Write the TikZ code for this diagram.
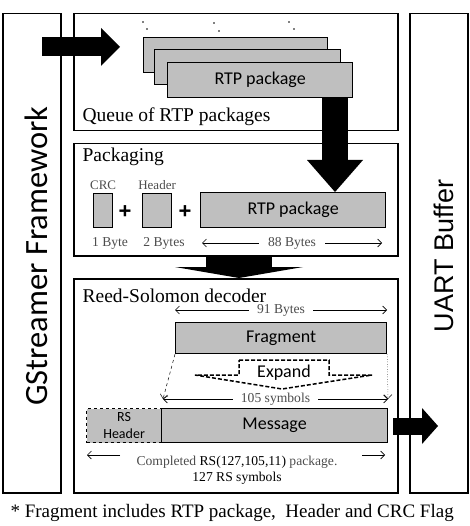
\documentclass[tikz,border=0pt]{standalone}
\usepackage{fontspec}
\setmainfont{Liberation Serif}
\setsansfont{Carlito}
\newfontfamily\arialfont{Liberation Sans}
\usetikzlibrary{arrows.meta,positioning}

\begin{document}
\begin{tikzpicture}[x=1pt,y=-1pt,line width=1.2pt,
  frame/.style={draw,line width=1.5pt,inner sep=0pt,anchor=north west},
  pkt/.style={draw,fill=gray!50,inner sep=0pt,anchor=north west,font=\sffamily\fontsize{18}{18}\selectfont},
  title/.style={anchor=west,inner sep=0pt,font=\fontsize{19.5}{20}\selectfont},
  small/.style={inner sep=0pt,text=black!70,font=\fontsize{13.6}{16}\selectfont},
  dim/.style={line width=0.6pt,{Straight Barb[length=4pt,width=8pt]}-{Straight Barb[length=4pt,width=8pt]}},
  fat/.style={draw,-{Triangle[length=#1,width=2*#1,line width=0pt]}},
  plus/.style={inner sep=0pt,font=\arialfont\bfseries\fontsize{22}{22}\selectfont}]

  \useasboundingbox (0,0) rectangle (469,526);

  % outer columns
  \node[frame,minimum width=58pt,minimum height=479pt] (gst) at (2,13) {};
  \node[rotate=90,inner sep=0pt,font=\sffamily\fontsize{32.5}{32}\selectfont] at (36,256) {GStreamer Framework};
  \node[frame,minimum width=58pt,minimum height=479pt] (uart) at (409,13) {};
  \node[rotate=90,inner sep=0pt,font=\arialfont\fontsize{27}{27}\selectfont] at (444,256) {UART Buffer};

  % queue
  \node[frame,minimum width=324pt,minimum height=117pt] (queue) at (73,13) {};
  \node[pkt,minimum width=184pt,minimum height=35pt] (rtpa) at (143,37) {};
  \node[pkt,minimum width=186pt,minimum height=35pt] (rtpb) at (154,49) {};
  \node[pkt,minimum width=185pt,minimum height=35pt] (rtpc) at (167,62) {RTP package};
  \foreach \x/\y in {143/22,147/29,214/23,219/31,289/22,294/29}
    \fill (\x,\y) circle (0.8pt);
  \node[title] (qtitle) at (82,117) {Queue of RTP packages};

  % packaging
  \node[frame,minimum width=324pt,minimum height=112pt] (pack) at (73,143) {};
  \node[title] (ptitle) at (82,157) {Packaging};
  \node[pkt,minimum width=19pt,minimum height=34pt] (crc) at (93,193) {};
  \node[pkt,minimum width=29pt,minimum height=34pt] (hdr) at (142,193) {};
  \node[pkt,minimum width=185pt,minimum height=35pt] (prtp) at (200,192) {RTP package};
  \node[small,font=\fontsize{13}{13}\selectfont,above=3pt of crc] {CRC};
  \node[small,font=\fontsize{13}{13}\selectfont,above=3pt of hdr] {Header};
  \node[plus] at (125,212) {+};
  \node[plus] at (185,212) {+};
  \node[small] at (110,243) {1 Byte};
  \node[small] at (164,243) {2 Bytes};
  \coordinate (b88l) at (202,243);
  \coordinate (b88r) at (382,243);
  \draw[dim] (b88l) -- node[small,fill=white,inner xsep=9pt,inner ysep=2pt] {88 Bytes} (b88r);

  % reed-solomon
  \node[frame,minimum width=324pt,minimum height=214pt] (rsd) at (73,278) {};
  \node[title] (rtitle) at (82,296) {Reed-Solomon decoder};
  \coordinate (b91l) at (175,310);
  \coordinate (b91r) at (387,310);
  \draw[dim] (b91l) -- node[small,fill=white,inner xsep=8pt,inner ysep=2pt] {91 Bytes} (b91r);
  \node[pkt,minimum width=211pt,minimum height=31pt] (frag) at (175,322) {Fragment};
  \draw[line width=1.5pt,dash pattern=on 4pt off 2pt]
    (239,360) -- (329,360) -- (329,375) -- (372,375) -- (282,389) -- (195,375) -- (239,375) -- cycle;
  \node[inner sep=0pt,font=\sffamily\fontsize{18}{18}\selectfont] (expand) at (284,373) {Expand};
  \coordinate (s105l) at (163,399);
  \coordinate (s105r) at (388,399);
  \draw[line width=0.5pt,dashed,-{Straight Barb[length=4pt,width=8pt]}] (frag.south west) -- (s105l);
  \draw[line width=0.5pt,dotted,-{Straight Barb[length=4pt,width=8pt]}] (frag.south east) -- (s105r);
  \draw[dim] (s105l) -- node[small,fill=white,inner xsep=8pt,inner ysep=1pt] {105 symbols} (s105r);
  \node[pkt,dashed,minimum width=75pt,minimum height=34pt,align=center,
        font=\sffamily\fontsize{14}{17}\selectfont] (rshdr) at (86,408) {RS\\Header};
  \node[pkt,minimum width=226pt,minimum height=34pt] (msg) at (161,408) {Message};
  \node[small,align=center] (done) at (237,470)
    {Completed \textcolor{black}{RS(127,105,11)} package.\\\textcolor{black}{127 RS symbols}};
  \coordinate (cl1) at (120,455);
  \coordinate (cl2) at (87,455);
  \coordinate (cr1) at (362,455);
  \coordinate (cr2) at (385,455);
  \draw[line width=0.6pt,-{Straight Barb[length=4pt,width=8pt]}] (cl1) -- (cl2);
  \draw[line width=0.6pt,-{Straight Barb[length=4pt,width=8pt]}] (cr1) -- (cr2);

  % big arrows
  \coordinate (in1) at (42,47);
  \coordinate (in2) at (120,47);
  \coordinate (down1) at (335,0);
  \coordinate (down2) at (239,0);
  \coordinate (out1) at (393,426);
  \coordinate (out2) at (438,426);
  \path[fat=19pt,line width=19pt] (in1) -- (in2);
  \path[line width=26pt,draw,-{Triangle[length=32pt,width=56pt,line width=0pt]}]
    (rtpc.south -| down1) -- (prtp.north -| down1);
  \path[line width=66pt,draw,-{Triangle[length=11pt,width=128pt,line width=0pt]}]
    (pack.south -| down2) -- (rsd.north -| down2);
  \path[line width=17pt,draw,-{Triangle[length=16pt,width=36pt,line width=0pt]}] (out1) -- (out2);

  \node[anchor=base west,inner sep=0pt,font=\fontsize{19}{19}\selectfont] (note) at (10,517)
    {* Fragment includes RTP package,\ \ Header and CRC Flag};

\end{tikzpicture}
\end{document}
